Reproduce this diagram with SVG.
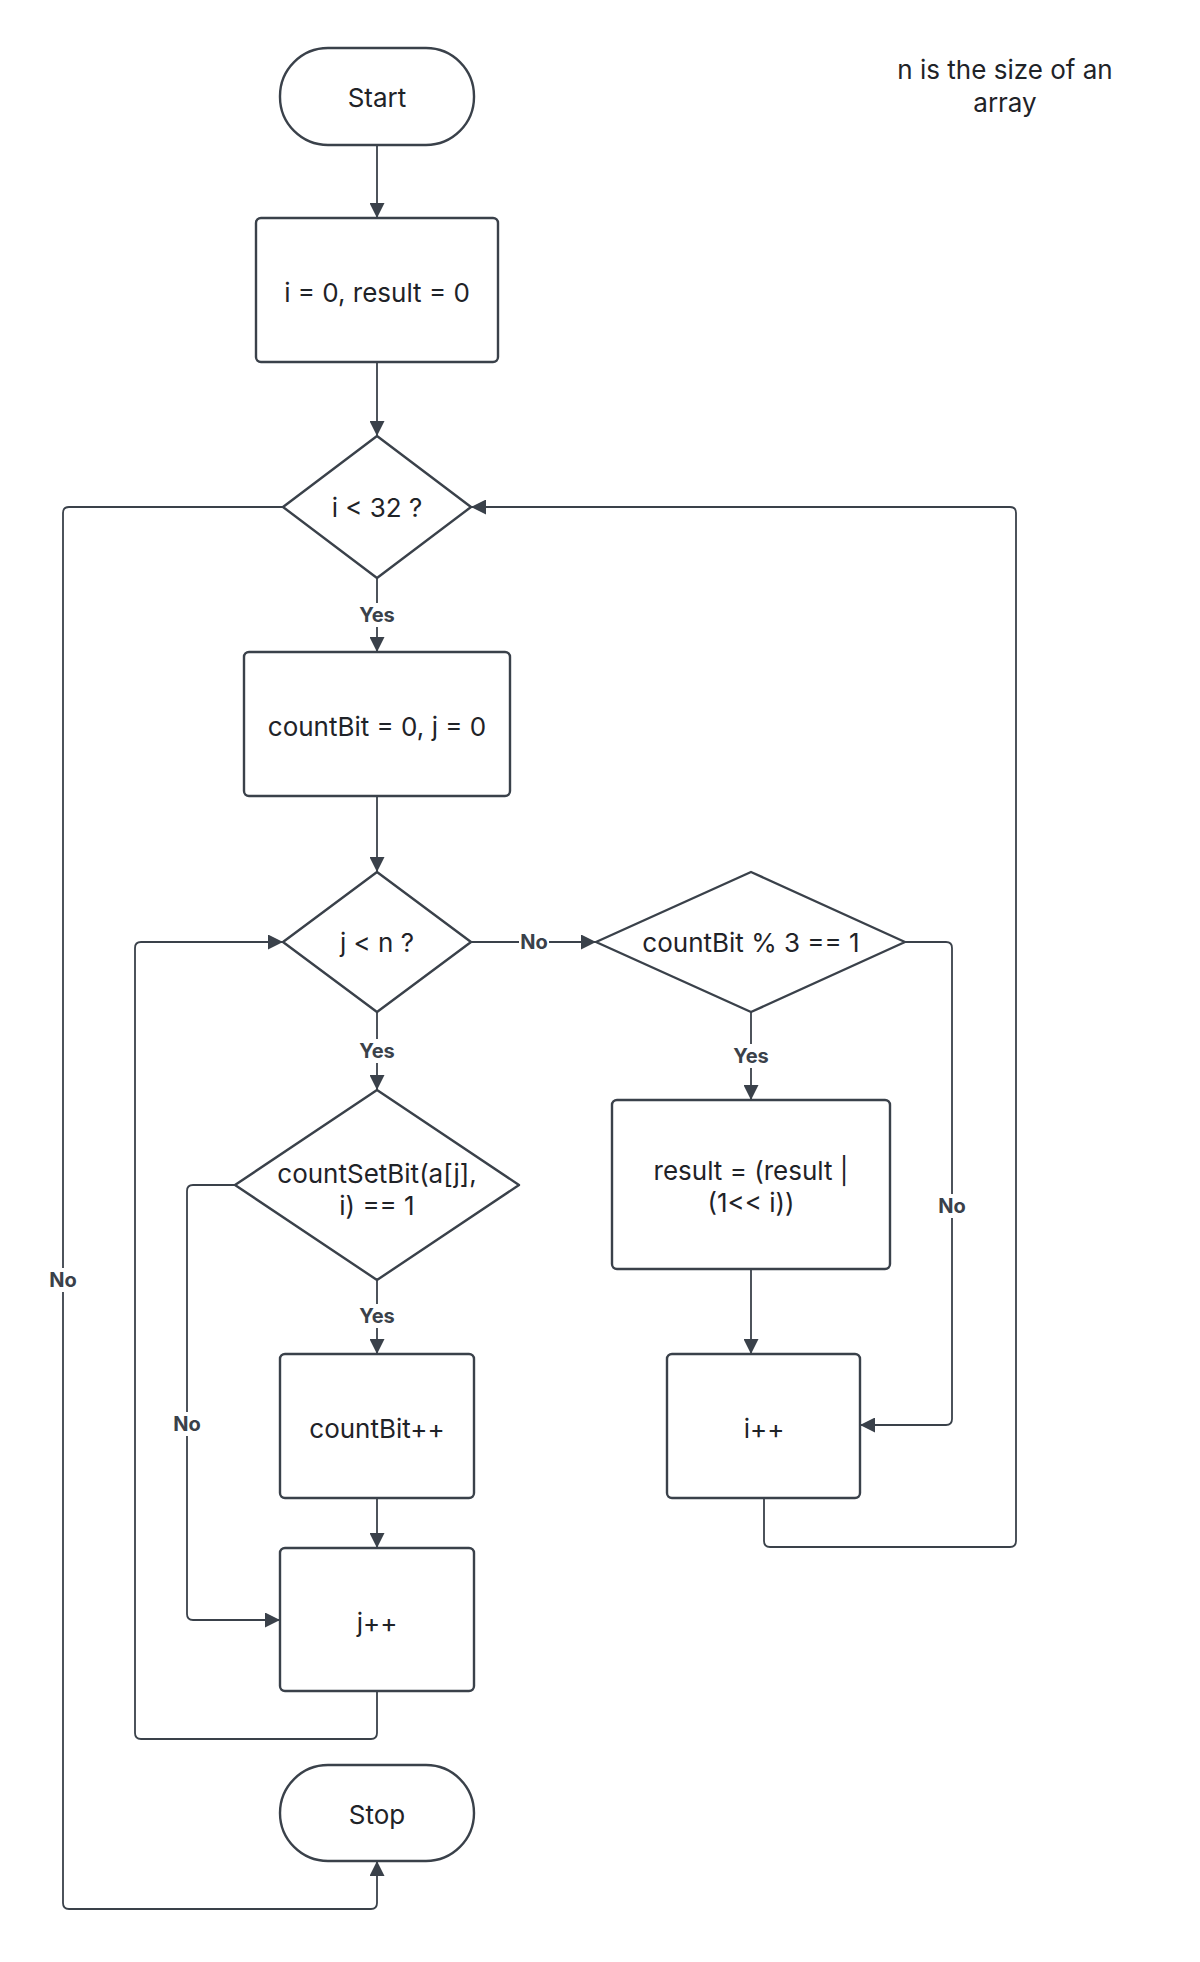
<svg xmlns="http://www.w3.org/2000/svg" width="1200" height="1962" viewBox="0 0 1200 1962">
<style>
.n{fill:#fff;stroke:#3a414a;stroke-width:2.4}
.t{font-family:Inter,"Liberation Sans",sans-serif;font-size:26px;fill:#1f2328;text-anchor:middle;dominant-baseline:central}
.l{font-family:Inter,"Liberation Sans",sans-serif;font-size:20px;font-weight:bold;fill:#3a414a;text-anchor:middle;dominant-baseline:central}
.c{fill:none;stroke:#3a414a;stroke-width:1.8;stroke-linejoin:round}
.bg{fill:#fff}
</style>
<defs><marker id="a" viewBox="0 0 10 10" refX="10" refY="5" markerWidth="17" markerHeight="15" markerUnits="userSpaceOnUse" orient="auto"><path d="M0,0L10,5L0,10z" fill="#3a414a"/></marker></defs>
<rect width="1200" height="1962" fill="#fff"/>
<g id="connectors">
<path class="c" d="M377,145V218" marker-end="url(#a)"/>
<path class="c" d="M377,362V436" marker-end="url(#a)"/>
<path class="c" d="M377,578V652" marker-end="url(#a)"/>
<path class="c" d="M283,507H69Q63,507 63,513V1903Q63,1909 69,1909H371Q377,1909 377,1903V1861" marker-end="url(#a)"/>
<path class="c" d="M377,796V872" marker-end="url(#a)"/>
<path class="c" d="M471,942H596" marker-end="url(#a)"/>
<path class="c" d="M377,1012V1090" marker-end="url(#a)"/>
<path class="c" d="M377,1280V1354" marker-end="url(#a)"/>
<path class="c" d="M235,1185H193Q187,1185 187,1191V1614Q187,1620 193,1620H280" marker-end="url(#a)"/>
<path class="c" d="M377,1498V1548" marker-end="url(#a)"/>
<path class="c" d="M377,1691V1733Q377,1739 371,1739H141Q135,1739 135,1733V948Q135,942 141,942H283" marker-end="url(#a)"/>
<path class="c" d="M751,1012V1100" marker-end="url(#a)"/>
<path class="c" d="M905,942H946Q952,942 952,948V1419Q952,1425 946,1425H860" marker-end="url(#a)"/>
<path class="c" d="M751,1269V1354" marker-end="url(#a)"/>
<path class="c" d="M764,1498V1541Q764,1547 770,1547H1010Q1016,1547 1016,1541V513Q1016,507 1010,507H471" marker-end="url(#a)"/>
<rect class="bg" x="355" y="603" width="44" height="24"/><text class="l" x="377" y="615">Yes</text>
<rect class="bg" x="45" y="1268" width="36" height="24"/><text class="l" x="63" y="1280">No</text>
<rect class="bg" x="519" y="932" width="30" height="20"/><text class="l" x="534" y="942">No</text>
<rect class="bg" x="355" y="1039" width="44" height="24"/><text class="l" x="377" y="1051">Yes</text>
<rect class="bg" x="355" y="1304" width="44" height="24"/><text class="l" x="377" y="1316">Yes</text>
<rect class="bg" x="169" y="1412" width="36" height="24"/><text class="l" x="187" y="1424">No</text>
<rect class="bg" x="729" y="1044" width="44" height="24"/><text class="l" x="751" y="1056">Yes</text>
<rect class="bg" x="934" y="1194" width="36" height="24"/><text class="l" x="952" y="1206">No</text>
</g>
<g id="start"><rect class="n" x="280" y="48" width="194" height="97" rx="48"/><text class="t" x="377" y="97">Start</text></g>
<g id="init"><rect class="n" x="256" y="218" width="242" height="144" rx="5"/><text class="t" x="377" y="292">i = 0, result = 0</text></g>
<g id="cond_i"><path class="n" d="M377,436L471,507L377,578L283,507Z" stroke-linejoin="round"/><text class="t" x="377" y="507">i &lt; 32 ?</text></g>
<g id="initj"><rect class="n" x="244" y="652" width="266" height="144" rx="5"/><text class="t" x="377" y="726">countBit = 0, j = 0</text></g>
<g id="cond_j"><path class="n" d="M377,872L471,942L377,1012L283,942Z" stroke-linejoin="round"/><text class="t" x="377" y="942">j &lt; n ?</text></g>
<g id="cond_mod"><path class="n" d="M751,872L905,942L751,1012L596,942Z" stroke-linejoin="round"/><text class="t" x="751" y="942">countBit % 3 == 1</text></g>
<g id="cond_set"><path class="n" d="M377,1090L519,1185L377,1280L235,1185Z" stroke-linejoin="round"/><text class="t" x="377" y="1173">countSetBit(a[j],</text><text class="t" x="377" y="1205">i) == 1</text></g>
<g id="result"><rect class="n" x="612" y="1100" width="278" height="169" rx="5"/><text class="t" x="751" y="1170">result = (result |</text><text class="t" x="751" y="1202">(1&lt;&lt; i))</text></g>
<g id="inc_count"><rect class="n" x="280" y="1354" width="194" height="144" rx="5"/><text class="t" x="377" y="1428">countBit++</text></g>
<g id="inc_i"><rect class="n" x="667" y="1354" width="193" height="144" rx="5"/><text class="t" x="764" y="1428">i++</text></g>
<g id="inc_j"><rect class="n" x="280" y="1548" width="194" height="143" rx="5"/><text class="t" x="377" y="1622">j++</text></g>
<g id="stop"><rect class="n" x="280" y="1765" width="194" height="96" rx="48"/><text class="t" x="377" y="1814">Stop</text></g>
<g id="note"><text class="t" x="1005" y="69">n is the size of an</text><text class="t" x="1005" y="102">array</text></g>
</svg>
